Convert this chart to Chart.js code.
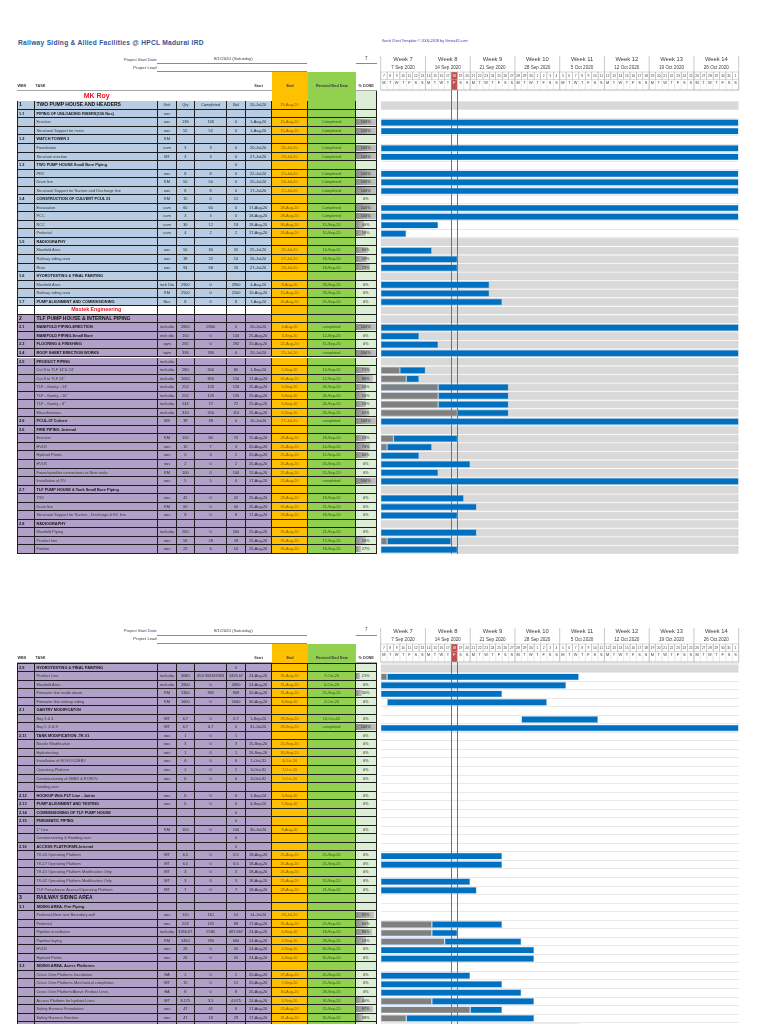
<!DOCTYPE html>
<html><head><meta charset="utf-8">
<script src="https://cdn.jsdelivr.net/npm/chart.js@4.4.1/dist/chart.umd.min.js"></script>
<style>
html,body{margin:0;padding:0;}
body{width:768px;height:1024px;overflow:hidden;position:relative;background:#fff;font-family:"Liberation Sans",Arial,sans-serif;}
.cell{position:absolute;box-sizing:border-box;overflow:hidden;white-space:nowrap;border-right:1px solid #1e1e1e;border-bottom:1px solid #1e1e1e;color:#2b2b2b;}
canvas{position:absolute;}
</style></head><body>
<canvas id="g1"></canvas><canvas id="g2"></canvas>
<script>
// ---------------- DATA ----------------
const weekLabels = ['Week 7','Week 8','Week 9','Week 10','Week 11','Week 12','Week 13','Week 14'];
const weekDates = ['7 Sep 2020','14 Sep 2020','21 Sep 2020','28 Sep 2020','5 Oct 2020','12 Oct 2020','19 Oct 2020','26 Oct 2020'];
const dayNumbers = [7,8,9,10,11,12,13,14,15,16,17,18,19,20,21,22,23,24,25,26,27,28,29,30,1,2,3,4,5,6,7,8,9,10,11,12,13,14,15,16,17,18,19,20,21,22,23,24,25,26,27,28,29,30,31,1];
const weekdayLetters = ['M','T','W','T','F','S','S'];
const todayDay = 11;

// page 1
const p1Wbs = ['1','1.1','','','1.2','','','1.3','','', '','1.4','','','','','1.5','','','', '1.6','','','1.7','','2','2.1','','2.3','2.4', '2.5','','','','','','','2.6','2.6','', '','','','','','2.7','','','','2.8', '','',''];
const p1Task = ['TWO PUMP HOUSE AND HEADERS','PIPING OF UNLOADING RISERS(136 Nos)','Erection','Structural Support for risers','WATCH TOWER 3','Foundation','Structure erection','TWO PUMP HOUSE Small Bore Piping','PRV','Drain line',
 'Structural Support for Suction and Discharge line','CONSTRUCTION OF CULVERT PCUL 01','Excavation','PCC','RCC','Pedestal','RADIOGRAPHY','Manifold Area','Railway siding area','Riser',
 'HYDROTESTING & FINAL PAINTING','Manifold Area','Railway siding area','PUMP ALIGNMENT AND COMMISSIONING','Mastek Engineering','TLF PUMP HOUSE & INTERNAL PIPING','MANIFOLD PIPING-ERECTION','MANIFOLD PIPING-Small Bore','FLOORING & FINISHING','ROOF SHEET ERECTION WORKS',
 'PRODUCT PIPING','Cut 8 to TLF 14"& 24"','Cut 8 to TLF 24"','TLF - Gantry - 14"','TLF - Gantry - 10"','TLF - Gantry - 8"','Miscellaneous','PCUL-07 Culvert','FIRE PIPING -Internal','Erection',
 'HVLR','Hydrant Points','HVLR','Foam/sprinkler connections to Nine tanks','Installation of DV','TLF PUMP HOUSE & Tank Small Bore Piping','TSV','Drain line','Structural Support for Suction , Discharge & RC  line','RADIOGRAPHY',
 'Manifold Piping','Product line','Fireline'];
const p1Kind = ['B','S','','','S','','','S','','', '','S','','','','','S','','','', 'S','','','S','R','B','S','S','S','S', 'S','','','','','','','S','S','', '','','','','','S','','','','S', '','',''];
const p1Unit = ['Unit','nos','nos','nos','KM','cum','MT','','nos','KM', 'nos','KM','cum','cum','cum','cum','','nos','nos','nos', '','inch Dia','KM','Nos','','','inch-dia','inch dia','sqm','sqm', 'inch-dia','inch-dia','inch-dia','inch-dia','inch-dia','inch-dia','inch-dia','M3','','KM', 'nos','nos','nos','KM','nos','','nos','KM','nos','', 'inch-dia','nos','nos'];
const p1Qty = ['Qty','','136','52','','3','3','','8','50', '8','15','60','3','30','4','','50','38','94', '','2900','2500','8','','','2800','150','292','336', '','280','1050','252','252','144','310','39','','150', '10','5','2','100','5','','42','60','8','', '260','56','22'];
const p1Comp = ['Completed','','136','52','','3','3','','8','50', '8','0','60','3','12','2','','30','22','68', '','0','0','0','','','2800','0','0','336', '','200','900','126','126','72','200','39','','80', '7','3','0','0','5','','0','0','0','', '0','28','6'];
const p1Bal = ['Bal','','0','0','','0','0','0','0','0', '0','15','0','0','18','2','','20','16','26', '','2900','2500','8','','','0','150','292','0', '','80','150','126','126','72','110','0','','70', '3','2','2','100','0','','42','60','8','', '260','28','16'];
const p1Start = ['20-Jul-20','','1-Aug-20','1-Aug-20','','20-Jul-20','27-Jul-20','','22-Jul-20','20-Jul-20', '17-Jul-20','','17-Aug-20','18-Aug-20','18-Aug-20','17-Aug-20','','25-Jul-20','26-Jul-20','27-Jul-20', '','4-Aug-20','10-Aug-20','7-Aug-20','','','20-Jul-20','25-Aug-20','20-Aug-20','20-Jul-20', '','1-Sep-20','17-Aug-20','25-Aug-20','25-Aug-20','25-Aug-20','25-Aug-20','10-Jul-20','','15-Aug-20', '20-Aug-20','20-Aug-20','20-Aug-20','15-Aug-20','17-Aug-20','','25-Aug-20','25-Aug-20','17-Aug-20','', '25-Aug-20','25-Aug-20','25-Aug-20'];
const p1End = ['19-Aug-20','','15-Aug-20','15-Aug-20','','26-Jul-20','29-Jul-20','','25-Jul-20','24-Jul-20', '22-Jul-20','','28-Aug-20','28-Aug-20','30-Aug-20','24-Aug-20','','26-Jul-20','27-Jul-20','28-Jul-20', '','8-Aug-20','15-Aug-20','30-Aug-20','','','4-Aug-20','3-Sep-20','22-Aug-20','25-Jul-20', '','5-Sep-20','30-Aug-20','6-Sep-20','6-Sep-20','6-Sep-20','6-Sep-20','27-Jul-20','','29-Aug-20', '25-Aug-20','25-Aug-20','25-Aug-20','25-Aug-20','22-Aug-20','','29-Aug-20','30-Aug-20','29-Aug-20','', '30-Aug-20','30-Aug-20','30-Aug-20'];
const p1Rev = ['','','Completed','Completed','','Completed','Completed','','Completed','Completed', 'Completed','','Completed','Completed','15-Sep-20','10-Sep-20','','14-Sep-20','18-Sep-20','18-Sep-20', '','23-Sep-20','23-Sep-20','25-Sep-20','','','completed','12-Sep-20','15-Sep-20','completed', '','13-Sep-20','12-Sep-20','26-Sep-20','26-Sep-20','26-Sep-20','26-Sep-20','completed','','18-Sep-20', '14-Sep-20','12-Sep-20','20-Sep-20','15-Sep-20','completed','','19-Sep-20','21-Sep-20','18-Sep-20','', '21-Sep-20','17-Sep-20','18-Sep-20'];
const p1Pct = [null,null,100,100,null,100,100,null,100,100, 100,0,100,100,40,50,null,60,58,72, null,0,0,0,null,null,100,0,0,100, null,71,86,50,50,50,65,100,null,53, 70,60,0,0,100,null,0,0,0,null, 0,50,27];
const p1BarStart = [0,0,0,0,0,0,0,0,0,0, 0,0,0,0,0,0,0,0,0,0, 0,0,0,0,0,0,0,0,0,0, 0,0,0,0,0,0,0,0,0,0, 0,0,0,0,0,0,0,0,0,0, 0,0,0];
const p1BarEnd = [null,null,56,56,null,56,56,null,56,56, 56,null,56,56,9,4,null,8,12,12, null,17,17,19,null,null,56,6,9,56, null,7,6,20,20,20,20,56,null,12, 8,6,14,9,56,null,13,15,12,null, 15,11,12];
const p1Progress = [0,0,0,0,0,0,0,0,0,0, 0,0,0,0,0,0,0,0,0,0, 0,0,0,0,0,0,0,0,0,0, 0,3,4,9,9,9,12,0,0,2, 1,0,0,0,0,0,0,0,0,0, 0,1,0];
const p1ShadedRows = [0,16,17,18,19,20,21,22,23,24,25,26,27,28,29,30,31,32,33,34,35,36,37,38,39,40,41,42,43,44,45,46,47,48,49,50,51,52];

// page 2
const p2Wbs = ['2.9','','','','','2.1','','','2.11','', '','','','','','2.12','2.13','2.14','2.15','', '','2.16','','','','','','3','3.1','', '','','','','','3.2','','','','', '','',''];
const p2Task = ['HYDROTESTING & FINAL PAINTING','Product Line','Manifold Area','Firewater line inside depot','Firewater line railway siding','GANTRY MODIFICATON','Bay 3 & 4','Bay 5 ,6 & 8','TANK MODIFICATION -TK 01','Nozzle Modification',
 'Hydrotesting','Installation of ROSOV,DBBV','Operating Platform','Commissioning of DBBV & ROSOV','handing over','HOOKUP With PLT Line - Joints','PUMP ALIGNMENT AND TESTING','COMMISSIONING OF TLF PUMP HOUSE','PNEUMATIC PIPING','1" Line',
 'Commissioning & Handing over','ACCESS PLATFORMS-Internal','TK-16 Operating Platform','TK-17 Operating Platform','TK-01 Operating Platform Modification Only','TK-02 Operating Platform Modification Only','TLF Pumphouse Access/Operating Platform','RAILWAY SIDING AREA','SIDING AREA- Fire Piping','Pedestal-Near new Boundary wall',
 'Pedestal','Pipeline installation','Pipeline laying','HVLR','Hydrant Points','SIDING AREA- Acess Platforms','Cross Over Platform- foundation','Cross Over Platform- Mechanical completion','Cross Over Platform Above Product Lines','Access  Platform for hydrant  Lines',
 'Safety Harness Foundation','Safety Harness Erection',''];
const p2Kind = ['S','','','','','S','','','S','', '','','','','','S','S','S','S','', '','S','','','','','','B','S','', '','','','','','S','','','','', '','',''];
const p2Unit = ['','inch-dia','inch-dia','KM','KM','','MT','MT','nos','nos', 'nos','nos','nos','nos','','nos','nos','','','KM', '','','MT','MT','MT','MT','MT','','','nos', 'nos','inch-dia','KM','nos','nos','','EA','MT','EA','MT', 'nos','nos',''];
const p2Qty = ['','3080','2800','1300','1600','','6.7','6.7','1','3', '1','6','2','6','','6','6','','','100', '','','6.5','6.5','3','3','7','','','120', '224','3266.67','1450','26','26','','2','15','8','8.175', '47','47',''];
const p2Comp = ['','653.333333333','0','392','0','','0','6.7','0','0', '0','0','0','0','','0','0','','','0', '','','0','0','0','0','0','','','110', '135','2580','790','0','0','','0','0','0','3.5', '41','18',''];
const p2Bal = ['0','2426.67','2800','908','1600','','6.7','0','1','3', '1','6','2','6','','6','6','0','0','100', '0','0','6.5','6.5','3','3','7','','','10', '89','687.667','660','26','26','','2','15','8','4.675', '6','29',''];
const p2Start = ['','24-Aug-20','24-Aug-20','20-Aug-20','30-Aug-20','','1-Sep-20','31-Jul-20','','15-Sep-20', '26-Sep-20','1-Oct-20','3-Oct-20','3-Oct-20','','1-Sep-20','4-Sep-20','','','30-Jul-20', '','','18-Aug-20','18-Aug-20','18-Aug-20','18-Aug-20','18-Aug-20','','','14-Jul-20', '17-Aug-20','24-Aug-20','24-Aug-20','24-Aug-20','24-Aug-20','','20-Aug-20','20-Aug-20','20-Aug-20','24-Aug-20', '17-Aug-20','17-Aug-20',''];
const p2End = ['','31-Aug-20','31-Aug-20','31-Aug-20','8-Sep-20','','29-Sep-20','29-Sep-20','','25-Sep-20', '30-Sep-20','3-Oct-20','7-Oct-20','7-Oct-20','','3-Sep-20','7-Sep-20','','','9-Aug-20', '','','25-Aug-20','25-Aug-20','25-Aug-20','25-Aug-20','28-Aug-20','','','28-Jul-20', '31-Aug-20','4-Sep-20','4-Sep-20','4-Sep-20','4-Sep-20','','27-Aug-20','7-Sep-20','30-Aug-20','4-Sep-20', '22-Aug-20','31-Aug-20',''];
const p2Rev = ['','7-Oct-20','5-Oct-20','25-Sep-20','2-Oct-20','','10-Oct-20','completed','','', '','','','','','','','','','', '','','25-Sep-20','25-Sep-20','','20-Sep-20','21-Sep-20','','','', '25-Sep-20','18-Sep-20','28-Sep-20','30-Sep-20','30-Sep-20','','20-Sep-20','25-Sep-20','28-Sep-20','30-Sep-20', '25-Sep-20','30-Sep-20',''];
const p2Pct = [null,21,0,30,0,null,0,100,0,0, 0,0,0,0,null,0,0,null,null,0, null,null,0,0,0,0,0,null,null,92, 60,80,53,0,0,null,0,0,0,40, 87,38,null];
const p2BarStart = [0,0,0,0,1,0,22,0,0,0, 0,0,0,0,0,0,0,0,0,0, 0,0,0,0,0,0,0,0,0,0, 0,0,0,0,0,0,0,0,0,0, 0,0,0];
const p2BarEnd = [null,31,29,19,26,null,34,56,null,null, null,null,null,null,null,null,null,null,null,null, null,null,19,19,null,14,15,null,null,null, 19,12,22,24,24,null,14,19,22,24, 19,24,31];
const p2Progress = [0,1,0,0,0,0,0,0,0,0, 0,0,0,0,0,0,0,0,0,0, 0,0,0,0,0,0,0,0,0,0, 8,8,10,0,0,0,0,0,0,8, 14,4,0];
const p2ShadedRows = [0];

// ---------------- LAYOUT / RENDER ----------------
const COLS = [17,35,158.3,176.7,195,227.3,245.7,271.7,308.3,355.7,376.7];
const RH = 8.54;
const BLUE_ROW = '#B8CCE4', PURPLE_ROW = '#B1A0C7', ORANGE = '#FFC000', GREEN = '#92D050', PCTBG = '#DCEFD6';
const FONT = '"Liberation Sans", Arial, sans-serif';

function add(css, text, parent){
  const e = document.createElement('div');
  e.style.cssText = 'position:absolute;' + css;
  if (text != null) e.textContent = text;
  (parent || document.body).appendChild(e);
  return e;
}
function label(x, yc, s, size, o){
  o = o || {};
  const w = 260; let left = x, ta = 'left';
  if (o.align === 'c') { left = x - w/2; ta = 'center'; }
  else if (o.align === 'r') { left = x - w; ta = 'right'; }
  const lh = size * 1.3;
  return add(`left:${left}px;top:${yc - lh/2}px;width:${w}px;height:${lh}px;line-height:${lh}px;font-size:${size}px;text-align:${ta};white-space:nowrap;color:${o.color || '#333'};font-weight:${o.bold ? 'bold' : 'normal'};${o.css || ''}`, s);
}

function header(dy, rowTop){
  label(156.7, 59.3 + dy, 'Project Start Date', 4.2, {align:'r', color:'#404040'});
  label(233.3, 59.3 + dy, '8/1/2020 (Saturday)', 4.4, {align:'c', color:'#404040'});
  add(`left:157px;top:${63 + dy}px;width:150px;height:0.7px;background:#8a8a8a`);
  label(156.7, 67.7 + dy, 'Project Lead', 4.2, {align:'r', color:'#404040'});
  add(`left:157px;top:${71.4 + dy}px;width:150px;height:0.7px;background:#8a8a8a`);
  label(366.3, 58.8 + dy, '7', 4.5, {align:'c', color:'#404040'});
  add(`left:356px;top:${63 + dy}px;width:20.5px;height:0.7px;background:#8a8a8a`);
  add(`left:${COLS[7]}px;top:${72.3 + dy}px;width:${COLS[8]-COLS[7]}px;height:${rowTop - 72.3 - dy}px;background:${ORANGE}`);
  add(`left:${COLS[8]}px;top:${72.3 + dy}px;width:${COLS[9]-COLS[8]}px;height:${rowTop - 72.3 - dy}px;background:${GREEN}`);
  const hy = 86.7 + dy, hc = '#3a3a3a';
  label(17.5, hy, 'WBS', 3.8, {bold:true, color:hc});
  label(35.5, hy, 'TASK', 3.8, {bold:true, color:hc});
  label((COLS[6]+COLS[7])/2, hy, 'Start', 3.8, {bold:true, color:hc, align:'c'});
  label((COLS[7]+COLS[8])/2, hy, 'End', 3.8, {bold:true, color:hc, align:'c'});
  label((COLS[8]+COLS[9])/2, hy, 'Revised End Date', 3.8, {bold:true, color:hc, align:'c'});
  label((COLS[9]+COLS[10])/2, hy, '% DONE', 3.8, {bold:true, color:hc, align:'c'});
  add(`left:17px;top:${90 + dy}px;width:${COLS[7]-17}px;height:0.8px;background:#A6A6A6`);
  add(`left:${COLS[9]}px;top:${90 + dy}px;width:${COLS[10]-COLS[9]}px;height:0.8px;background:#A6A6A6`);
}

function table(top0, wbs, task, kind, unit, qty, comp, bal, start, end, rev, pct, fillFor){
  add(`left:${COLS[0]}px;top:${top0 - 0.5}px;width:${COLS[10]-COLS[0]}px;height:1px;background:#1e1e1e`);
  for (let i = 0; i < task.length; i++) {
    const y = top0 + i * RH;
    const k = kind[i];
    const fill = fillFor(i);
    const vals = [wbs[i], task[i], unit[i], qty[i], comp[i], bal[i], start[i], end[i], rev[i], pct[i] == null ? '' : pct[i] + '%'];
    for (let c = 0; c < 10; c++) {
      const x0 = COLS[c], x1 = COLS[c+1];
      const bg = c === 7 ? ORANGE : c === 8 ? GREEN : c === 9 ? PCTBG : fill;
      let fs = 3.9, fw = 'normal', col = '#2b2b2b', ta = 'center', pad = 0;
      if (c === 0) { ta = 'left'; pad = 1; }
      if (c === 1) { ta = 'left'; pad = 1.5; }
      if (c === 7) col = '#7A5A00';
      if (c === 8) col = '#2F5A1C';
      if (c <= 1) {
        if (k === 'B') { fs = 5; fw = 'bold'; col = '#111'; }
        else if (k === 'S') { fs = 3.9; fw = 'bold'; col = '#151515'; }
        else if (k === 'R' && c === 1) { fs = 5.3; fw = 'bold'; col = '#E8141B'; ta = 'center'; pad = 0; }
        else { col = '#3a3a3a'; }
      }
      let css = `left:${x0}px;top:${y}px;width:${x1 - x0}px;height:${RH}px;line-height:${RH - 1}px;background:${bg};font-size:${fs}px;font-weight:${fw};color:${col};text-align:${ta};padding-left:${pad}px;`;
      if (c === 0) css += 'border-left:1px solid #1e1e1e;';
      const cell = add(css, null);
      cell.className = 'cell';
      cell.style.position = 'absolute';
      if (c === 9 && pct[i] != null && pct[i] > 0) {
        add(`left:0;top:0.6px;bottom:0.6px;width:${pct[i]}%;background:linear-gradient(90deg,#8C8C8C,#C4C4C4);`, null, cell);
      }
      const sp = document.createElement('span');
      sp.style.cssText = 'position:relative;';
      sp.textContent = vals[c];
      cell.appendChild(sp);
    }
  }
}

// ----- page 1 text -----
label(18, 43.3, 'Railway Siding & Allied Facilities @ HPCL Madurai IRD', 6.6, {bold:true, color:'#2F5597', css:'letter-spacing:0.28px;'});
label(381.7, 41, 'Gantt Chart Template \u00A9 2006-2018 by Vertex42.com', 3.7, {color:'#3535B0'});
const P1_TOP = 101.3;
header(0, P1_TOP);
// MK Roy row
add(`left:${COLS[9]}px;top:90.8px;width:${COLS[10]-COLS[9]}px;height:${P1_TOP - 90.8}px;background:${PCTBG};border-right:1px solid #1e1e1e;box-sizing:border-box;`);
label((COLS[1]+COLS[2])/2, 95.3, 'MK Roy', 7, {bold:true, color:'#E8141B', align:'c'});
table(P1_TOP, p1Wbs, p1Task, p1Kind, p1Unit, p1Qty, p1Comp, p1Bal, p1Start, p1End, p1Rev, p1Pct,
  i => p1Kind[i] === 'R' ? '#FFFFFF' : (i < 24 ? BLUE_ROW : PURPLE_ROW));

// ----- page 2 text -----
const DY2 = 571.5;
const P2_TOP = 663.5;
header(DY2, P2_TOP);
table(P2_TOP, p2Wbs, p2Task, p2Kind, p2Unit, p2Qty, p2Comp, p2Bal, p2Start, p2End, p2Rev, p2Pct, () => PURPLE_ROW);

// ----- Gantt charts -----
const HDR = {week:19.3, date:27.7, numTop:32, numBot:39.3, letY:43, bottom:50, sepTop:16};
const ganttPlugin = {
  id: 'ganttDecor',
  afterDatasetDraw(chart, args) {
    if (args.index !== 2) return;
    const {ctx, chartArea: a, scales: {x}} = chart;
    ctx.save();
    ctx.strokeStyle = '#C0504D'; ctx.lineWidth = 1;
    [todayDay, todayDay + 1].forEach(v => {
      const px = Math.round(x.getPixelForValue(v)) + 0.5;
      ctx.beginPath(); ctx.moveTo(px, HDR.bottom); ctx.lineTo(px, a.bottom); ctx.stroke();
    });
    ctx.restore();
  },
  afterDraw(chart) {
    const {ctx, scales: {x}} = chart;
    const xp = v => x.getPixelForValue(v);
    ctx.save();
    ctx.textAlign = 'center'; ctx.textBaseline = 'middle';
    ctx.fillStyle = '#C0504D';
    ctx.fillRect(xp(todayDay), HDR.numTop, xp(todayDay + 1) - xp(todayDay), HDR.bottom - HDR.numTop);
    for (let d = 0; d < dayNumbers.length; d++) {
      const a = xp(d), b = xp(d + 1);
      ctx.strokeStyle = '#B5B5B5'; ctx.lineWidth = 0.5;
      ctx.strokeRect(a, HDR.numTop, b - a, HDR.numBot - HDR.numTop);
      ctx.strokeStyle = '#D5D5D5';
      ctx.beginPath(); ctx.moveTo(b, HDR.numBot); ctx.lineTo(b, HDR.bottom); ctx.stroke();
      const isToday = d === todayDay;
      ctx.fillStyle = isToday ? '#FFFFFF' : '#404040';
      ctx.font = `3.3px ${FONT}`;
      ctx.fillText(String(dayNumbers[d]), (a + b) / 2, (HDR.numTop + HDR.numBot) / 2 + 0.2);
      ctx.font = `3.9px ${FONT}`;
      ctx.fillText(weekdayLetters[d % 7], (a + b) / 2, HDR.letY);
    }
    for (let w = 0; w <= weekLabels.length; w++) {
      const px = xp(w * 7);
      ctx.strokeStyle = '#BDBDBD'; ctx.lineWidth = 0.8;
      ctx.beginPath(); ctx.moveTo(px, HDR.sepTop); ctx.lineTo(px, HDR.bottom); ctx.stroke();
      if (w < weekLabels.length) {
        const cx = (xp(w * 7) + xp(w * 7 + 7)) / 2;
        ctx.fillStyle = '#404040';
        ctx.font = `5.8px ${FONT}`;
        ctx.fillText(weekLabels[w], cx, HDR.week);
        ctx.font = `4.6px ${FONT}`;
        ctx.fillText(weekDates[w], cx, HDR.date);
      }
    }
    ctx.strokeStyle = '#A6A6A6'; ctx.lineWidth = 0.8;
    ctx.beginPath(); ctx.moveTo(xp(0), HDR.bottom); ctx.lineTo(xp(56), HDR.bottom); ctx.stroke();
    ctx.restore();
  }
};

function gantt(id, top, height, padTop, labels, barStart, barEnd, progress, shaded) {
  const cv = document.getElementById(id);
  cv.width = 390; cv.height = height;
  cv.style.cssText = `position:absolute;left:378px;top:${top}px;width:390px;height:${height}px;`;
  const n = labels.length;
  const padBottom = height - padTop - n * RH;
  const bg = labels.map((_, i) => shaded.includes(i) ? [0, 56] : null);
  const prog = labels.map((_, i) => (barEnd[i] != null && progress[i] > 0) ? [barStart[i], progress[i]] : null);
  const blue = labels.map((_, i) => barEnd[i] != null ? [Math.max(barStart[i], progress[i]), barEnd[i]] : null);
  const isShaded = i => shaded.includes(i);
  new Chart(cv, {
    type: 'bar',
    data: { labels, datasets: [
      { data: blue, backgroundColor: '#0070C0', borderColor: '#8DBBE6', borderWidth: 0.6, borderSkipped: false, grouped: false, barPercentage: 0.8, categoryPercentage: 1, order: 1 },
      { data: prog, backgroundColor: '#808080', borderColor: '#8DBBE6', borderWidth: 0.6, borderSkipped: false, grouped: false, barPercentage: 0.8, categoryPercentage: 1, order: 1 },
      { data: bg, backgroundColor: '#D9D9D9', borderWidth: 0, grouped: false, barPercentage: 0.9, categoryPercentage: 1, order: 5 }
    ]},
    options: {
      indexAxis: 'y', responsive: false, animation: false, events: [],
      layout: { autoPadding: false, padding: { left: 2.7, right: 29.3, top: padTop, bottom: padBottom } },
      plugins: { legend: { display: false }, tooltip: { enabled: false } },
      scales: {
        x: { type: 'linear', min: 0, max: 56, display: false },
        y: { type: 'category', display: true, offset: true,
             ticks: { display: false }, border: { display: false },
             grid: { offset: true, drawTicks: false, lineWidth: 0.8,
                     color: c => (isShaded(c.index) && isShaded(c.index - 1)) ? '#FFFFFF' : '#E3E3E3' },
             afterFit: s => { s.width = 0; } }
      }
    },
    plugins: [ganttPlugin]
  });
}

gantt('g1', 40, 520, P1_TOP - 40, p1Task, p1BarStart, p1BarEnd, p1Progress, p1ShadedRows);
gantt('g2', 40 + DY2, 432, P2_TOP - 40 - DY2, p2Task, p2BarStart, p2BarEnd, p2Progress, p2ShadedRows);
</script>
</body></html>
